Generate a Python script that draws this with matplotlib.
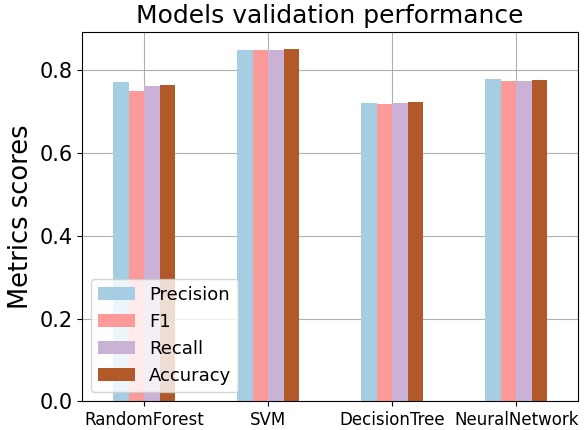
import pandas as pd
import matplotlib.pyplot as plt

# model names and metric scores
models = ['RandomForest', 'SVM', 'DecisionTree', 'NeuralNetwork']
precision = [0.772, 0.849, 0.721, 0.779]
f1 = [0.750, 0.849, 0.719, 0.774]
recall = [0.762, 0.849, 0.721, 0.774]
accuracy = [0.765, 0.851, 0.724, 0.777]

df = pd.DataFrame({'Precision': precision, 'F1': f1,
                   'Recall': recall, 'Accuracy': accuracy}, index=models)

fig, ax = plt.subplots(figsize=(5.87, 4.3), dpi=100)
df.plot(kind='bar', ax=ax, colormap='Paired', rot=0)
ax.set_title('Models validation performance', fontsize=18)
ax.set_ylabel('Metrics scores', fontsize=18.5)
ax.tick_params(axis='y', labelsize=15)
ax.tick_params(axis='x', labelsize=12)
ax.grid(True)
ax.set_axisbelow(True)
ax.legend(loc='lower left', fontsize=13)
fig.subplots_adjust(left=0.140, right=0.985, top=0.926, bottom=0.067)
fig.savefig('out.png')
